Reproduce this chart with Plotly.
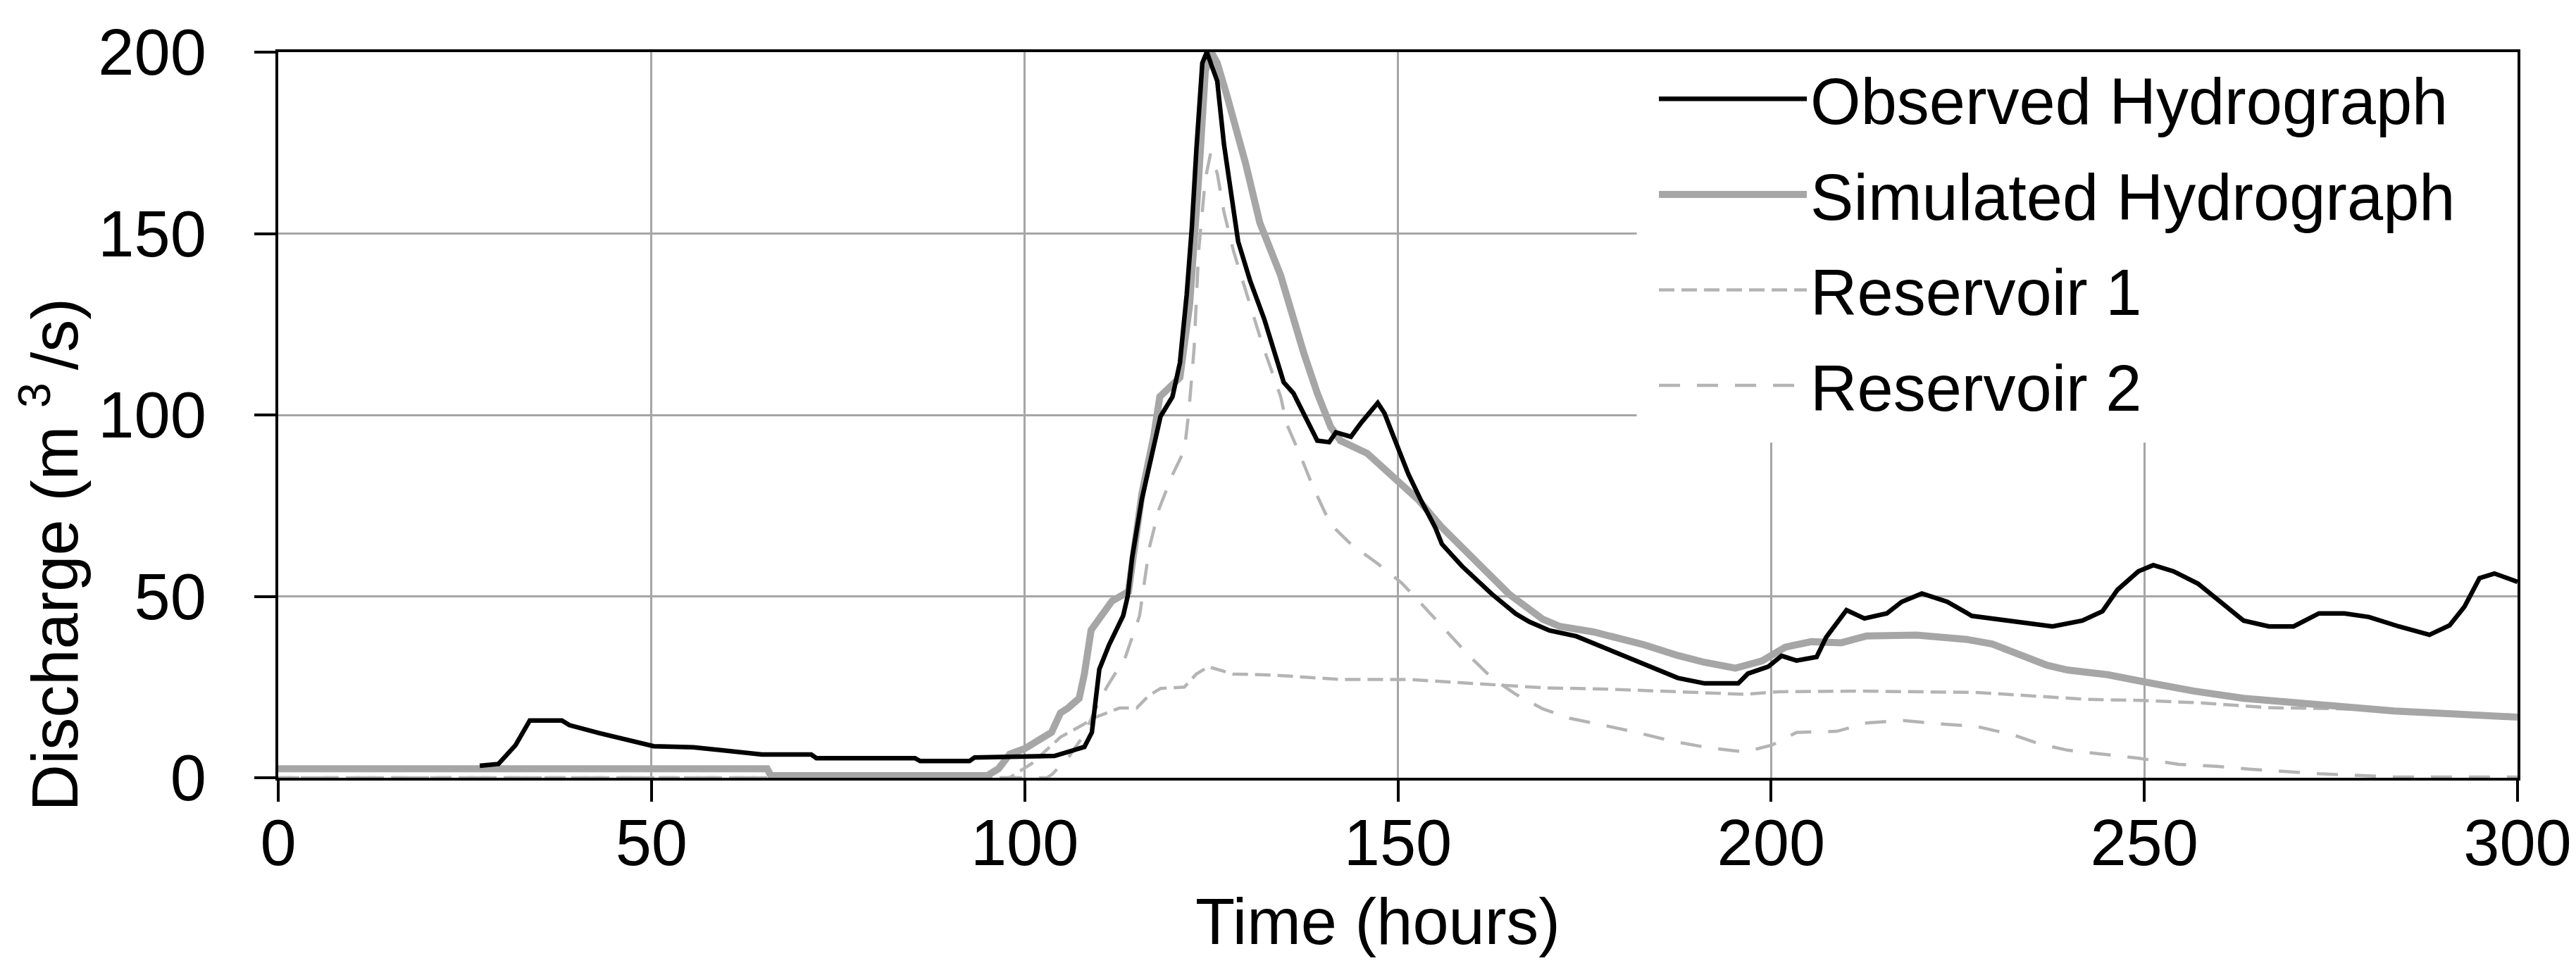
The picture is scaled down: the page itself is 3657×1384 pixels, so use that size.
import plotly.graph_objects as go

# observed hydrograph (hours, m3/s)
obs_t = [27, 29.5, 31.8, 33.7, 38, 39, 43, 48.7, 50.3, 55.6, 60.2, 64.8, 71.4, 72.1, 85.3, 86, 92.6, 93.3,
         104, 108, 109, 109.4, 110, 111.3, 113.2, 113.8, 114.4, 115.7, 117.3, 118.2, 119.8, 120.8, 121.7,
         122.4, 123, 123.8, 124.4, 125.8, 126.7, 127.4, 128.6, 130.2, 132.1, 134.3, 134.7, 136, 137.8,
         139.2, 140.8, 141.7, 143.7, 145.1, 147.3, 148.2, 149.2, 151.4, 153.2, 155, 155.9, 158.6, 162.6,
         165.8, 167.6, 170.3, 173.9, 178.4, 182.9, 187.5, 191.1, 195.6, 196.9, 199.6, 201.4, 203.4, 206.1,
         207.4, 210.1, 212.5, 215.5, 217.5, 220.2, 223.6, 226.9, 229.6, 234.3, 237.7, 241.7, 244.4, 246.4,
         249.2, 251.2, 253.9, 257.2, 260.6, 263.3, 266.7, 270, 273.4, 276.8, 280.1, 284.1, 288.2, 290.9,
         292.9, 294.9, 296.9, 300]
obs_q = [3.3, 3.8, 9, 15.8, 15.8, 14.5, 12.3, 9.4, 8.7, 8.4, 7.4, 6.4, 6.4, 5.4, 5.4, 4.6, 4.6, 5.6,
         6.0, 8.5, 12.5, 20.5, 29.9, 36.6, 44.7, 50, 60.7, 76.8, 91.6, 99.6, 105, 114.4, 133,
         151.8, 173, 197, 200, 192, 174.6, 165, 147.8, 137, 126.4, 111.7, 109, 106, 98.3,
         92.9, 92.5, 95.2, 94, 97.9, 103.3, 100.5, 95.2, 83.7, 76, 69, 64.4, 58.3, 50.6,
         45.2, 43, 40.6, 39, 35.2, 31.4, 27.5, 26, 26, 28.7, 30.6, 33.6, 32.3, 33.3,
         38.8, 46.2, 43.9, 45.3, 48.5, 50.8, 48.5, 44.6, 43.9, 42.7, 41.7, 43.3, 45.9, 51.8,
         56.9, 58.6, 56.9, 53.5, 47.8, 43.3, 41.7, 41.7, 45.3, 45.3, 44.3, 41.7, 39.4, 42,
         47.2, 55, 56.3, 54]

# simulated hydrograph
sim_t = [0, 65.5, 66, 95, 96.5, 98, 100, 103.6, 104.8, 105.8, 107.3, 108, 108.9, 110.2, 111.7, 113.9,
         114.8, 115.7, 117.3, 118.1, 120.8, 122.1, 123.3, 124.2, 125, 125.8, 127.1, 129.6, 131.5, 134.3,
         137.4, 139.2, 141, 142.3, 145.9, 150, 152.7, 155.9, 160.4, 164.9, 169.4, 171.7, 176.2, 179.8,
         182.9, 187.5, 191.1, 195.2, 198.8, 201.9, 205.4, 209.4, 212.8, 219.5, 226.3, 229.6, 233, 237,
         239.7, 245.1, 249.8, 256.6, 263.3, 270, 276.8, 283.5, 290.2, 300]
sim_q = [2.5, 2.5, 0.6, 0.6, 2.5, 6.5, 8, 12.5, 17.9, 19.2, 21.9, 28.6, 40.7, 44.7, 48.7, 51.3,
         63.4, 78.2, 94.2, 105, 110.3, 130.4, 165, 194.7, 200, 197, 188, 169.3, 153, 138.4,
         117, 106, 96.7, 92.9, 89.4, 82.1, 76.7, 69, 59.8, 50.6, 43.7, 41.7, 40.2, 38.3,
         36.7, 33.7, 31.8, 30.2, 32.2, 36, 37.5, 37.2, 39.1, 39.3, 38.1, 36.9, 34.3, 31,
         29.7, 28.4, 26.5, 23.9, 21.9, 20.6, 19.3, 18.4, 17.7, 16.7]

# reservoir 1 outflow
res1_t = [0, 98, 101, 104.8, 107.8, 109.4, 112.7, 115, 116.6, 118.2, 121.4, 123, 124.6, 127.9, 133.3,
          142.3, 151.4, 160.4, 169.4, 178.4, 187.5, 196.5, 201, 211.4, 227.6, 234.3, 242.4, 249.8,
          257.9, 266.7, 276.8, 286.8, 300]
res1_q = [0, 0, 4, 11.2, 14.6, 16.6, 19.2, 19.2, 22.6, 24.6, 25, 28.6, 30.6, 28.6, 28.3,
          27.1, 27.1, 26, 24.8, 24.4, 23.7, 23, 23.7, 23.9, 23.5, 22.6, 21.6, 21.3,
          20.6, 19.3, 19, 18, 17]

# reservoir 2 outflow
res2_t = [0, 103, 103.7, 106, 108, 109.5, 111, 113.5, 115.4, 116.7, 118, 119.8, 121.4, 122, 122.7,
          123.3, 124.2, 124.9, 125.8, 126.7, 128, 129.6, 131.8, 134.3, 135.1, 136.9, 138.7, 141, 143.7,
          147.3, 150.5, 153.7, 156.8, 159.5, 162.6, 165.8, 169.4, 173, 177.5, 182, 186.5, 191.5, 196.5,
          200.1, 203.4, 208.8, 212.8, 217.5, 222.9, 227.6, 232.3, 236, 239.7, 244.4, 249.2, 254.6, 260,
          264, 268.7, 273.4, 283.5, 300]
res2_q = [0, 0, 1, 6, 12, 19, 25, 33.3, 44.7, 63.4, 74.1, 83.5, 90.3, 101, 118.4,
          145, 165, 172, 166.6, 155.9, 145, 134.4, 119.7, 105, 97.5, 89, 79.8, 69.8, 64.4,
          59, 53.7, 46.7, 39.8, 33.7, 27.5, 23, 19, 16.4, 14.5, 12.5, 10.2, 8.3, 7.1,
          9, 12.5, 12.8, 15.1, 15.8, 14.8, 14.1, 11.9, 9.3, 7.6, 6.6, 5.4, 3.7, 3.1,
          2.4, 1.8, 1.1, 0.2, 0.2]

FONT = "Liberation Sans, Arial, sans-serif"
GRAY = "#a6a6a6"

fig = go.Figure()
fig.add_trace(go.Scatter(x=res1_t, y=res1_q, mode="lines", name="Reservoir 1", legendrank=3,
                         legendgroup="r1", line=dict(color="#b4b4b4", width=4.5, dash="22px,10px")))
fig.add_trace(go.Scatter(x=res2_t, y=res2_q, mode="lines", name="Reservoir 2", legendrank=4,
                         legendgroup="r2", line=dict(color="#b4b4b4", width=4.5, dash="30px,24px")))
fig.add_trace(go.Scatter(x=sim_t, y=sim_q, mode="lines", name="Simulated Hydrograph", legendrank=2,
                         legendgroup="sim", line=dict(color=GRAY, width=10)))
fig.add_trace(go.Scatter(x=obs_t, y=obs_q, mode="lines", name="Observed Hydrograph", legendrank=1,
                         legendgroup="obs", line=dict(color="black", width=6.5)))

axis_style = dict(showline=True, linecolor="black", linewidth=3.5, mirror=True,
                  ticks="outside", ticklen=30, tickwidth=3.5, tickcolor="black",
                  showgrid=True, gridcolor=GRAY, gridwidth=3, zeroline=False,
                  tickfont=dict(family=FONT, size=92, color="black"))

fig.update_xaxes(range=[0, 300], dtick=50, ticklabelstandoff=-20, **axis_style)
fig.update_yaxes(range=[0, 200], dtick=50, ticklabelstandoff=50, **axis_style)

# white area behind the legend hides the gridlines there
fig.add_shape(type="rect", xref="x", yref="y", x0=182, x1=300, y0=92.4, y1=200,
              fillcolor="white", line=dict(width=0), layer="between")

fig.update_layout(
    width=3657, height=1384, autosize=False,
    margin=dict(l=387, r=91, t=66, b=288),
    plot_bgcolor="white", paper_bgcolor="white",
    font=dict(family=FONT, size=92, color="black"),
    showlegend=True,
    legend=dict(x=0.615, y=1.0, xanchor="left", yanchor="top", bgcolor="rgba(0,0,0,0)",
                itemwidth=210, font=dict(family=FONT, size=92, color="black"),
                tracegroupgap=13),
    annotations=[
        dict(text="Time (hours)", xref="paper", yref="paper", x=0.491, y=-0.198,
             xanchor="center", yanchor="middle", showarrow=False,
             font=dict(family=FONT, size=92, color="black")),
        dict(text="Discharge (m <sup>3 </sup>/s)", xref="paper", yref="paper", x=-0.102, y=0.307,
             xanchor="center", yanchor="middle", textangle=-90, showarrow=False,
             font=dict(family=FONT, size=92, color="black")),
    ],
)

fig.write_html("out.html")
